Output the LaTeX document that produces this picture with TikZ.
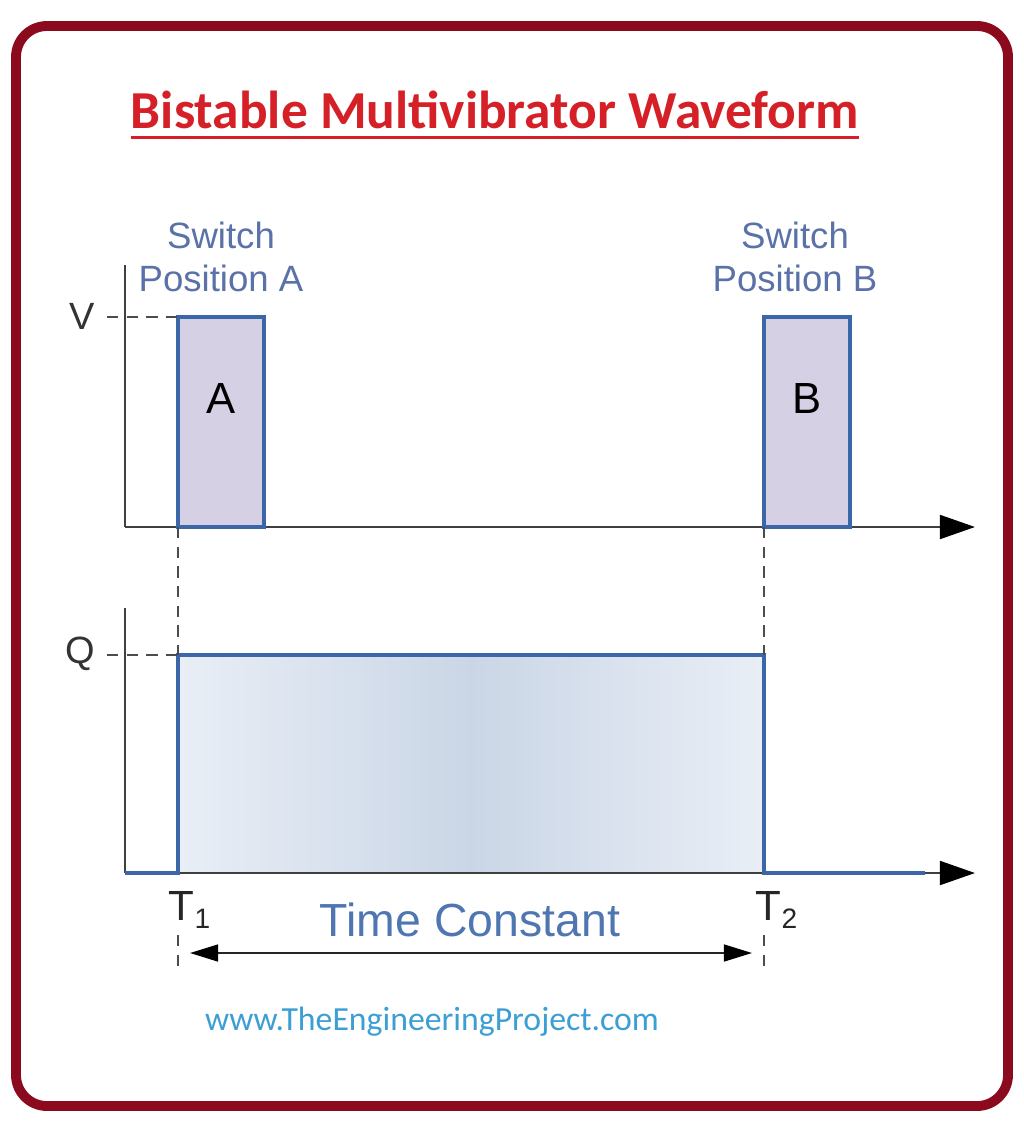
\documentclass[tikz,border=0pt]{standalone}
\usepackage{fontspec}
\setmainfont{Liberation Sans}
\newfontfamily\calibri{Carlito}
\usetikzlibrary{arrows.meta}
\definecolor{frame}{HTML}{8C0A1E}
\definecolor{wave}{HTML}{3B67A9}
\definecolor{pulsefill}{HTML}{D5D0E3}
\definecolor{labelblue}{HTML}{5A72A8}
\definecolor{titlered}{HTML}{D42026}
\definecolor{urlblue}{HTML}{3C9FD4}
\definecolor{shadeedge}{HTML}{E9EEF6}
\definecolor{shademid}{HTML}{CAD6E6}
\begin{document}
\begin{tikzpicture}[x=0.025cm,y=-0.025cm,
	axisline/.style={line width=1.8pt,black!75,-{Triangle[length=25pt,width=17pt,color=black]}},
	guide/.style={line width=1.3pt,black!70,dash pattern=on 8pt off 6pt},
	wavefrm/.style={line width=3.5pt,draw=wave,line join=miter},
	swlabel/.style={text=labelblue,font=\fontsize{26}{31}\selectfont,align=center},
	level/.style={font=\fontsize{27}{31}\selectfont,black!80}]
				\useasboundingbox (0,0) rectangle (1024,1126);
				\fill[white] (0,0) rectangle (1024,1126);
				\draw[frame,line width=7pt,rounded corners=22pt] (16,26) rectangle (1008,1106);
				% title
				\node[anchor=base,inner sep=0,text=titlered,font=\calibri\bfseries\fontsize{38}{44}\selectfont] (title) at (495,128) {Bistable Multivibrator Waveform};
				\draw[titlered,line width=2.2pt] ([yshift=-7pt]title.base west) -- ([yshift=-7pt]title.base east);
				% upper plot
				\coordinate (O1) at (125,527);
				\coordinate (Y1) at (125,265);
				\coordinate (X1) at (975,527);
				\coordinate (VA) at (178,317);
				\coordinate (VB) at (764,317);
				\coordinate (V0) at (107,317);
				\draw[line width=1.8pt,black!75] (Y1) -- (O1);
				\draw[axisline] (O1) -- (X1);
				\draw[wavefrm,fill=pulsefill] (178,527) rectangle (264,317);
				\draw[wavefrm,fill=pulsefill] (764,527) rectangle (850,317);
				\draw[guide] (V0) -- (VA);
				\node[level] (lblV) at (82,316) {V};
				\node (lblA) at (221,398) {\fontsize{31}{36}\selectfont A};
				\node (lblB) at (807,398) {\fontsize{31}{36}\selectfont B};
				\node[swlabel] (swA) at (221,257) {Switch\\Position A};
				\node[swlabel] (swB) at (795,257) {Switch\\Position B};
				% lower plot
				\coordinate (O2) at (125,873);
				\coordinate (Y2) at (125,608);
				\coordinate (X2) at (975,873);
				\coordinate (QA) at (178,655);
				\coordinate (QB) at (764,655);
				\coordinate (Q0) at (107,655);
				\coordinate (TA) at (178,873);
				\coordinate (TB) at (764,873);
				\coordinate (WE) at (925,873);
				\shade[left color=shadeedge,right color=shadeedge,middle color=shademid] (TA) rectangle (QB);
				\draw[line width=1.8pt,black!75] (Y2) -- (O2);
				\draw[axisline] (O2) -- (X2);
				\draw[wavefrm] (O2) -- (TA) -- (QA) -- (QB) -- (TB) -- (WE);
				\draw[guide] (Q0) -- (QA);
				\node[level] (lblQ) at (80,654) {Q};
				% guides from switch edges
				\draw[guide] (178,527) -- (QA);
				\draw[guide] (764,527) -- (QB);
				\draw[guide] (178,935) -- (178,968);
				\draw[guide] (764,935) -- (764,968);
				\node[font=\fontsize{30}{34}\selectfont,black!85] (t1) at (190,910) {T\textsubscript{\fontsize{20}{22}\selectfont 1}};
				\node[font=\fontsize{30}{34}\selectfont,black!85] (t2) at (777,910) {T\textsubscript{\fontsize{20}{22}\selectfont 2}};
				\node[text=wave!90!white,font=\fontsize{33}{38}\selectfont] (tc) at (470,920) {Time Constant};
				\coordinate (CA) at (190,953);
				\coordinate (CB) at (752,953);
				\draw[line width=1.5pt,black!85,{Triangle[length=20pt,width=12pt,color=black]}-{Triangle[length=20pt,width=12pt,color=black]}] (CA) -- (CB);
				\node[text=urlblue,font=\calibri\fontsize{24}{28}\selectfont] (url) at (432,1022) {www.TheEngineeringProject.com};
			\end{tikzpicture}
\end{document}
